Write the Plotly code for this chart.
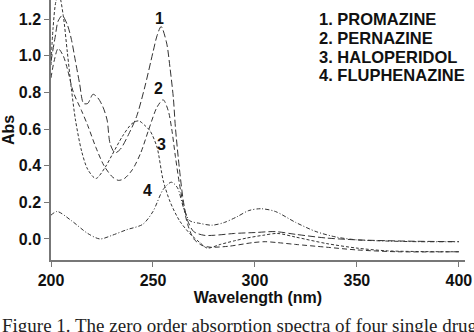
import plotly.graph_objects as go

# ---- data ----
x1 = [200, 202, 203.5, 205.5, 208, 210, 212, 214, 216, 218, 220.6, 223, 225.5, 227.5, 229, 231.4,
      234, 238, 242, 246, 250, 252, 254, 256.7, 258.3, 260, 261, 263, 265, 267, 270, 275, 280,
      290, 300, 310, 320, 335, 350, 375, 400]
y1 = [0.97, 1.10, 1.19, 1.22, 1.17, 1.09, 0.97, 0.85, 0.74, 0.74, 0.79, 0.77, 0.72, 0.65, 0.52, 0.47,
      0.49, 0.57, 0.67, 0.83, 1.02, 1.11, 1.16, 1.07, 0.94, 0.77, 0.61, 0.38, 0.20, 0.10, 0.04, 0.02, 0.02,
      0.03, 0.035, 0.04, 0.025, 0.005, -0.005, -0.012, -0.015]

x2 = [200, 201.5, 203.5, 206, 208, 211, 215, 218, 222, 226, 230, 233, 236, 240, 244, 248, 252, 255,
      257.5, 259.2, 261, 263, 265, 267, 270, 274, 278, 287, 299, 305, 311, 320, 335, 350, 370, 400]
y2 = [0.88, 0.97, 1.04, 1.00, 0.93, 0.80, 0.70, 0.62, 0.50, 0.40, 0.34, 0.32, 0.33, 0.38, 0.47, 0.60, 0.72, 0.76,
      0.70, 0.60, 0.45, 0.30, 0.18, 0.08, 0.00, -0.035, -0.045, -0.04, -0.02, -0.015, -0.02, -0.03, -0.045, -0.06, -0.07, -0.07]

x3 = [200, 201, 202.5, 204, 206, 208, 210, 212, 215, 218, 222, 226.5, 230, 235, 239.7, 243, 246, 248.6,
      252, 255, 258.5, 263, 268, 273, 276.6, 283, 290, 296, 304, 311, 320, 335, 350, 365, 400]
y3 = [0.95, 1.15, 1.30, 1.33, 1.22, 1.02, 0.82, 0.65, 0.48, 0.38, 0.33, 0.39, 0.46, 0.56, 0.63, 0.645, 0.62, 0.59,
      0.50, 0.32, 0.20, 0.10, 0.03, -0.02, -0.05, -0.03, -0.01, 0.005, 0.02, 0.03, 0.01, -0.025, -0.05, -0.065, -0.07]

x4 = [200, 203, 210, 218, 224, 230, 237, 245, 250, 255, 259, 262, 265, 268, 273, 279, 285, 291, 297,
      303, 310, 320, 330, 340, 350, 360, 380, 400]
y4 = [0.13, 0.15, 0.10, 0.03, 0.00, 0.02, 0.05, 0.08, 0.15, 0.27, 0.31, 0.28, 0.17, 0.10, 0.085, 0.075, 0.09, 0.12, 0.155,
      0.165, 0.15, 0.09, 0.04, 0.01, -0.005, -0.01, -0.015, -0.015]

legend_names = ["1. PROMAZINE", "2. PERNAZINE", "3. HALOPERIDOL", "4. FLUPHENAZINE"]
curve_labels = ["1", "2", "3", "4"]
label_x = [253.4, 252.9, 254.3, 247.5]
label_y = [1.205, 0.82, 0.518, 0.262]
legend_y = [1.2, 1.097, 0.994, 0.893]

xticks = [200, 250, 300, 350, 400]
yticks = [0.0, 0.2, 0.4, 0.6, 0.8, 1.0, 1.2]

caption = "Figure 1. The zero order absorption spectra of four single drugs"

# ---- figure ----
dashes = ["7px,3px", "5px,3px", "3px,2px", "4px,2px,1px,2px"]
series = [(x1, y1), (x2, y2), (x3, y3), (x4, y4)]

fig = go.Figure()
for (xs, ys), d, name in zip(series, dashes, legend_names):
    fig.add_trace(go.Scatter(x=xs, y=ys, mode="lines", name=name,
                             line=dict(color="#333333", width=1, dash=d, shape="spline", smoothing=0.8),
                             showlegend=False))

font_sans = "Liberation Sans, Arial, sans-serif"

for t, lx, ly in zip(curve_labels, label_x, label_y):
    fig.add_annotation(x=lx, y=ly, text=t, showarrow=False, xref="x", yref="y",
                       font=dict(family=font_sans, size=16, color="#111111", weight="bold"))

for t, ly in zip(legend_names, legend_y):
    fig.add_annotation(x=0.6425, y=ly, text=t, showarrow=False, xref="paper", yref="y",
                       xanchor="left", yanchor="middle",
                       font=dict(family=font_sans, size=16.5, color="#111111", weight="bold"))

fig.add_annotation(x=-0.123, y=-0.205, xref="paper", yref="paper", text=caption,
                   showarrow=False, xanchor="left", yanchor="top",
                   font=dict(family="Liberation Serif, Times New Roman, serif", size=19, color="#222222"))

fig.update_layout(
    width=474, height=332,
    margin=dict(l=51, r=9, t=0, b=72),
    paper_bgcolor="white", plot_bgcolor="white",
    font=dict(family=font_sans, color="#111111"),
    xaxis=dict(range=[200, 403], tickvals=xticks, ticks="outside", ticklen=5, tickwidth=1.2,
               tickcolor="#777777", showline=True, linecolor="#777777", linewidth=1.5,
               showgrid=False, zeroline=False,
               tickfont=dict(family=font_sans, size=16, color="#111111", weight="bold"),
               title=dict(text="Wavelength (nm)", standoff=3,
                          font=dict(family=font_sans, size=16, color="#111111", weight="bold"))),
    yaxis=dict(range=[-0.115, 1.305], tickvals=yticks, tickformat=".1f", ticks="outside", ticklen=5,
               tickwidth=1.2, tickcolor="#777777", showline=True, linecolor="#777777", linewidth=1.5,
               showgrid=False, zeroline=False,
               tickfont=dict(family=font_sans, size=16, color="#111111", weight="bold"),
               title=dict(text="Abs", standoff=4,
                          font=dict(family=font_sans, size=16, color="#111111", weight="bold"))),
)

fig.write_html("out.html")
